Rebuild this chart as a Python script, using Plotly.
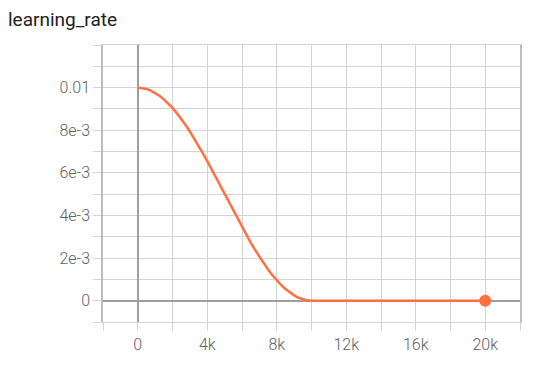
import plotly.graph_objects as go

steps = [0, 250, 500, 750, 1000, 1250, 1500, 1750, 2000, 2250, 2500, 2750,
         3000, 3250, 3500, 3750, 4000, 4250, 4500, 4750, 5000, 5250, 5500,
         5750, 6000, 6250, 6500, 6750, 7000, 7250, 7500, 7750, 8000, 8250,
         8500, 8750, 9000, 9250, 9500, 9750, 10000,
         12000, 14000, 16000, 18000, 20000]
learning_rate = [0.01, 0.009985, 0.00994, 0.009862, 0.00976, 0.009619, 0.00945,
                 0.009263, 0.00905, 0.008802, 0.00854, 0.008247, 0.00794,
                 0.007612, 0.00727, 0.006913, 0.00655, 0.006167, 0.00578,
                 0.005392, 0.0050, 0.004608, 0.00422, 0.003833, 0.00346,
                 0.003087, 0.00273, 0.002388, 0.00206, 0.001753, 0.00146,
                 0.001198, 0.00096, 0.000737, 0.00055, 0.000381, 0.00025,
                 0.000138, 0.00006, 0.000015, 0.0,
                 0.0, 0.0, 0.0, 0.0, 0.0]
x_tickvals = [0, 4000, 8000, 12000, 16000, 20000]
x_ticktext = ["0", "4k", "8k", "12k", "16k", "20k"]
y_tickvals = [0, 0.002, 0.004, 0.006, 0.008, 0.01]
y_ticktext = ["0", "2e-3", "4e-3", "6e-3", "8e-3", "0.01"]

line_color = "#ff7043"
grid_color = "#d3d3d3"
font_color = "#616161"

fig = go.Figure()
fig.add_trace(go.Scatter(x=steps, y=learning_rate, mode="lines",
                         line=dict(color=line_color, width=2.5),
                         hoverinfo="skip", showlegend=False))
fig.add_trace(go.Scatter(x=[steps[-1]], y=[learning_rate[-1]], mode="markers",
                         marker=dict(color=line_color, size=12),
                         hoverinfo="skip", showlegend=False))

axis_common = dict(
    showgrid=True, gridcolor=grid_color, gridwidth=1,
    ticks="outside", ticklen=8, tickcolor=grid_color, tickwidth=1,
    zeroline=True, zerolinecolor="#9e9e9e", zerolinewidth=2,
    tickfont=dict(family="Roboto", size=16, color=font_color, weight=300),
    fixedrange=True,
)

fig.update_xaxes(range=[-2000, 22000], tickmode="array", tickvals=x_tickvals,
                 ticktext=x_ticktext,
                 minor=dict(dtick=2000, tick0=0, showgrid=True, gridcolor=grid_color,
                            ticks="outside", ticklen=8, tickcolor=grid_color),
                 mirror=True, showline=True, linecolor=grid_color, linewidth=1,
                 **axis_common)
fig.update_yaxes(range=[-0.001, 0.012], tickmode="array", tickvals=y_tickvals,
                 ticktext=y_ticktext,
                 minor=dict(dtick=0.001, tick0=0, showgrid=True, gridcolor=grid_color,
                            ticks="outside", ticklen=8, tickcolor=grid_color),
                 showline=True, linecolor="#bdbdbd", linewidth=1.5, mirror=True,
                 **axis_common)

fig.update_layout(
    width=560, height=367,
    margin=dict(l=103, r=40, t=45, b=45),
    paper_bgcolor="white", plot_bgcolor="white",
    title=dict(text="learning_rate", x=8/560, xref="container", xanchor="left",
               y=1 - 19/367, yref="container", yanchor="middle",
               font=dict(family="Roboto", size=19, color="#212121")),
)

fig.write_html("out.html")
